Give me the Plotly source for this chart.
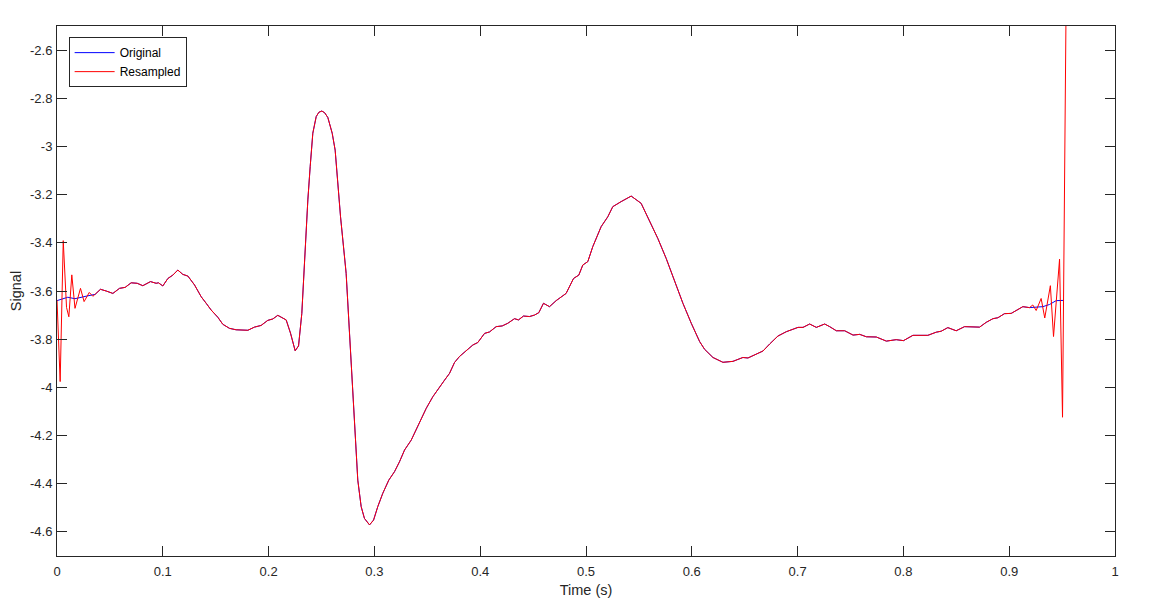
import plotly.graph_objects as go

# Original signal
t_orig = [0.0, 0.0102, 0.0170, 0.0228, 0.0291, 0.0361, 0.0411, 0.0465, 0.0528, 0.0591,
          0.0644, 0.0701, 0.0758, 0.0811, 0.0884, 0.0937, 0.0959, 0.1000, 0.1048, 0.1095,
          0.1142, 0.1189, 0.1237, 0.1300, 0.1363, 0.1410, 0.1457, 0.1520, 0.1567, 0.1630,
          0.1693, 0.1804, 0.1866, 0.1929, 0.1992, 0.2040, 0.2087, 0.2166, 0.2207, 0.2251,
          0.2283, 0.2314, 0.2339, 0.2355, 0.2371, 0.2393, 0.2418, 0.2450, 0.2475, 0.2503,
          0.2530, 0.2560, 0.2601, 0.2629, 0.2654, 0.2680, 0.2733, 0.2765, 0.2796, 0.2812,
          0.2828, 0.2843, 0.2875, 0.2906, 0.2954, 0.2992, 0.3032, 0.3079, 0.3136, 0.3190,
          0.3237, 0.3285, 0.3348, 0.3426, 0.3490, 0.3552, 0.3615, 0.3663,
          0.3710, 0.3757, 0.3804, 0.3867, 0.3931, 0.3977, 0.4041, 0.4088, 0.4151, 0.4208,
          0.4261, 0.4324, 0.4362, 0.4409, 0.4466, 0.4513, 0.4554, 0.4598, 0.4655, 0.4718,
          0.4812, 0.4882, 0.4932, 0.4970, 0.5017, 0.5064, 0.5143, 0.5206, 0.5253, 0.5332,
          0.5427, 0.5521, 0.5600, 0.5679, 0.5758, 0.5837, 0.5916, 0.5995, 0.6074, 0.6121,
          0.6200, 0.6294, 0.6389, 0.6436, 0.6483, 0.6531, 0.6594, 0.6673, 0.6736, 0.6814,
          0.6893, 0.6957, 0.7004, 0.7051, 0.7114, 0.7177, 0.7256, 0.7303, 0.7366, 0.7445,
          0.7524, 0.7587, 0.7650, 0.7744, 0.7839, 0.7932, 0.8001, 0.8090, 0.8231, 0.8310,
          0.8357, 0.8420, 0.8499, 0.8578, 0.8720, 0.8783, 0.8846, 0.8893, 0.8956, 0.9019,
          0.9066, 0.9129, 0.9192, 0.9255, 0.9318, 0.9381, 0.9444, 0.9517]
sig_orig = [-3.640, -3.626, -3.632, -3.625, -3.620, -3.614, -3.593, -3.600, -3.610, -3.589,
            -3.585, -3.566, -3.568, -3.578, -3.561, -3.568, -3.566, -3.579, -3.548, -3.534,
            -3.513, -3.531, -3.538, -3.575, -3.624, -3.651, -3.679, -3.709, -3.738, -3.755,
            -3.761, -3.763, -3.750, -3.743, -3.722, -3.716, -3.701, -3.720, -3.775, -3.848,
            -3.828, -3.693, -3.471, -3.347, -3.222, -3.084, -2.945, -2.876, -2.858, -2.853,
            -2.860, -2.880, -2.945, -3.015, -3.153, -3.292, -3.527, -3.775, -4.005, -4.108,
            -4.246, -4.385, -4.495, -4.544, -4.571, -4.551, -4.495, -4.440, -4.385, -4.350,
            -4.309, -4.260, -4.219, -4.149, -4.087, -4.039, -3.997, -3.970,
            -3.942, -3.897, -3.872, -3.847, -3.824, -3.814, -3.776, -3.770, -3.748, -3.745,
            -3.734, -3.715, -3.720, -3.704, -3.706, -3.700, -3.690, -3.651, -3.665, -3.640,
            -3.610, -3.548, -3.534, -3.492, -3.478, -3.416, -3.333, -3.292, -3.250, -3.229,
            -3.206, -3.236, -3.306, -3.382, -3.465, -3.562, -3.651, -3.734, -3.810, -3.842,
            -3.876, -3.896, -3.892, -3.884, -3.876, -3.878, -3.864, -3.849, -3.820, -3.787,
            -3.769, -3.759, -3.751, -3.751, -3.737, -3.751, -3.737, -3.748, -3.765, -3.765,
            -3.783, -3.780, -3.790, -3.791, -3.808, -3.802, -3.806, -3.784, -3.784, -3.771,
            -3.767, -3.752, -3.765, -3.748, -3.750, -3.730, -3.715, -3.711, -3.694, -3.693,
            -3.682, -3.665, -3.669, -3.668, -3.665, -3.656, -3.640, -3.639]

# Resampled signal: ringing at the start and end
t_res_start = [0.0, 0.0030, 0.0059, 0.0090, 0.0112, 0.0140, 0.0170, 0.0222, 0.0256, 0.0305, 0.0339]
sig_res_start = [-3.637, -3.976, -3.391, -3.668, -3.707, -3.533, -3.672, -3.589, -3.644, -3.606, -3.622]
t_res_end = [0.9223, 0.9255, 0.9302, 0.9336, 0.9389, 0.9419, 0.9476, 0.9504, 0.9538]
sig_res_end = [-3.658, -3.681, -3.631, -3.712, -3.578, -3.789, -3.468, -4.124, -2.400]

x_ticks = [0, 0.1, 0.2, 0.3, 0.4, 0.5, 0.6, 0.7, 0.8, 0.9, 1]
x_tick_labels = ["0", "0.1", "0.2", "0.3", "0.4", "0.5", "0.6", "0.7", "0.8", "0.9", "1"]
y_ticks = [-4.6, -4.4, -4.2, -4.0, -3.8, -3.6, -3.4, -3.2, -3.0, -2.8, -2.6]
y_tick_labels = ["-4.6", "-4.4", "-4.2", "-4", "-3.8", "-3.6", "-3.4", "-3.2", "-3", "-2.8", "-2.6"]

mid_t = [t for t in t_orig if 0.035 < t < 0.920]
mid_s = [s for t, s in zip(t_orig, sig_orig) if 0.035 < t < 0.920]
t_res = t_res_start + mid_t + t_res_end
sig_res = sig_res_start + mid_s + sig_res_end

FONT = "Liberation Sans, Arial, Helvetica, sans-serif"

fig = go.Figure()
fig.add_trace(go.Scatter(x=t_orig, y=sig_orig, mode="lines", name="Original",
                         line=dict(color="#0000FF", width=1)))
fig.add_trace(go.Scatter(x=t_res, y=sig_res, mode="lines", name="Resampled",
                         line=dict(color="#FF0000", width=1)))

axis_common = dict(showline=True, linecolor="#262626", linewidth=1, mirror="ticks",
                   ticks="inside", ticklen=10, tickwidth=1, tickcolor="#262626",
                   showgrid=False, zeroline=False, automargin=False,
                   tickfont=dict(family=FONT, size=13, color="#262626"))

fig.update_layout(
    width=1151, height=596,
    margin=dict(l=49, r=44, t=18, b=48),
    paper_bgcolor="white", plot_bgcolor="white",
    xaxis=dict(range=[0, 1], tickvals=x_ticks, ticktext=x_tick_labels,
               ticklabelstandoff=3,
               title=dict(text="Time (s)", standoff=7,
                          font=dict(family=FONT, size=14.5, color="#262626")),
               **axis_common),
    yaxis=dict(range=[-4.7, -2.5], tickvals=y_ticks, ticktext=y_tick_labels,
               ticklabelstandoff=1,
               title=dict(text="Signal", standoff=6,
                          font=dict(family=FONT, size=14.5, color="#262626")),
               **axis_common),
    legend=dict(x=0.011, y=0.979, xanchor="left", yanchor="top",
                bgcolor="white", bordercolor="#262626", borderwidth=1,
                font=dict(family=FONT, size=12, color="black"),
                tracegroupgap=0, itemwidth=40),
    showlegend=True,
)

fig.write_html("out.html")
